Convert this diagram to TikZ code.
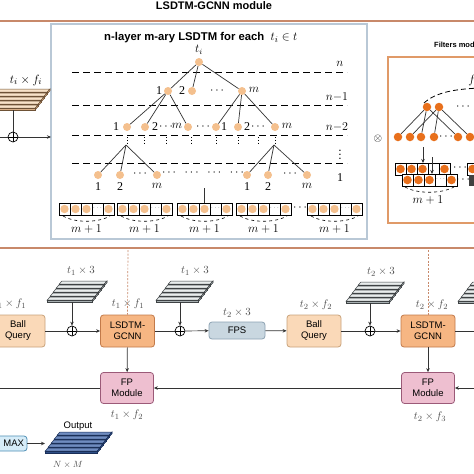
\documentclass[tikz,border=0pt]{standalone}
\usepackage{fontspec}
\setmainfont{Liberation Sans}
\newfontfamily\serifnum{Liberation Serif}
\usetikzlibrary{arrows.meta}
\definecolor{brownln}{HTML}{C8896A}
\definecolor{boxblue}{HTML}{B9C8D6}
\definecolor{peach}{HTML}{F4C08E}
\definecolor{forange}{HTML}{E8701C}
\definecolor{fboxdraw}{HTML}{E09A68}
\definecolor{bqfill}{HTML}{FAD9B8}
\definecolor{bqdraw}{HTML}{C9A27A}
\definecolor{lsfill}{HTML}{F6B683}
\definecolor{lsdraw}{HTML}{C27A4A}
\definecolor{fpsfill}{HTML}{C9D7E0}
\definecolor{fpsdraw}{HTML}{8DA3B3}
\definecolor{fpfill}{HTML}{EEBFD0}
\definecolor{fpdraw}{HTML}{9B5A78}
\definecolor{maxfill}{HTML}{D6ECF8}
\definecolor{maxdraw}{HTML}{4F8FB5}
\definecolor{gtop}{HTML}{E9EDED}
\definecolor{gfront}{HTML}{A7AFB1}
\definecolor{gedge}{HTML}{3E4244}
\definecolor{ttop}{HTML}{F8E2C8}
\definecolor{tfront}{HTML}{D8AE86}
\definecolor{tedge}{HTML}{6E5236}
\definecolor{btop}{HTML}{6F8CC0}
\definecolor{bfront}{HTML}{2E4E85}
\definecolor{bedge}{HTML}{1A2F58}
\definecolor{lbl}{HTML}{505050}
% x y w topfill frontfill edge
\newcommand{\layerstack}[6]{%
  \foreach \i in {4,3,2,1,0}{%
    \filldraw[fill=#4, draw=#6, line width=0.5pt]
      ({#1+\i*3},{#2-\i*4-1.8}) -- ++(#3,0) -- ++(3,-3.2) -- ++(-#3,0) -- cycle;
    \filldraw[fill=#5, draw=#6, line width=0.5pt]
      ({#1+\i*3+#3},{#2-\i*4}) -- ++(0,-1.8) -- ++(3,-3.2) -- ++(0,1.8) -- cycle;
    \filldraw[fill=#5, draw=#6, line width=0.5pt]
      ({#1+\i*3},{#2-\i*4}) rectangle ++(#3,-1.8);
  }}
\newcommand{\vecgroup}[2]{%
  \foreach \k in {0,1,2,4}{%
    \draw[line width=0.7pt, fill=white] ({#1+\k*11},#2) rectangle ++(11,12);
    \fill[peach] ({#1+\k*11+5.5},{#2+6}) circle (4.2pt);
  }
  \draw[line width=0.7pt, fill=white] ({#1+33},#2) rectangle ++(11,12);
  \node[font=\tiny, inner sep=0pt] at ({#1+38.5},{#2+5}) {$\cdots$};
  \draw[dashed, line width=0.6pt] ({#1+4},{#2+13}) .. controls ({#1+16},{#2+20}) and ({#1+39},{#2+20}) .. ({#1+51},{#2+13});
  \node[font=\fontsize{12.5}{13}\selectfont, inner sep=0pt] at ({#1+27.5},{#2+26}) {$m+1$};
}
\begin{document}
\begin{tikzpicture}[x=1pt,y=-1pt,
  tn/.style={circle, fill=peach, inner sep=0pt, minimum size=8pt},
  fn/.style={circle, fill=forange, inner sep=0pt, minimum size=8.5pt},
  lev/.style={dashed, dash pattern=on 7pt off 4pt, line width=0.9pt},
  num/.style={font=\serifnum\fontsize{12}{13}\selectfont, inner sep=0pt},
  mlab/.style={font=\fontsize{12}{13}\selectfont, inner sep=0pt},
  blk/.style={rounded corners=3pt, line width=0.8pt, align=center,
    font=\fontsize{9.5}{11}\selectfont, inner sep=1pt},
  bq/.style={blk, draw=bqdraw, fill=bqfill, minimum width=54pt, minimum height=32pt},
  ls/.style={blk, draw=lsdraw, fill=lsfill, minimum width=54pt, minimum height=32pt},
  fps/.style={blk, draw=fpsdraw, fill=fpsfill, minimum width=56pt, minimum height=17pt},
  fp/.style={blk, draw=fpdraw, fill=fpfill, minimum width=53pt, minimum height=31pt},
  opl/.style={circle, draw, line width=0.7pt, minimum size=10pt, inner sep=0pt,
    path picture={\draw[line width=0.7pt] (path picture bounding box.north) -- (path picture bounding box.south)
      (path picture bounding box.west) -- (path picture bounding box.east);}},
  arr/.style={-{Stealth[length=4pt,width=3.5pt]}, line width=0.7pt, draw=black!80},
  ln/.style={line width=0.7pt, draw=black!80},
  dim/.style={font=\fontsize{11}{12}\selectfont, text=lbl, inner sep=0pt},
  ttl/.style={font=\bfseries\fontsize{11.3}{13}\selectfont, inner sep=0pt}
]
\useasboundingbox (0,0) rectangle (474,474);
\clip (0,0) rectangle (474,474);
\fill[white] (0,0) rectangle (474,474);

% ---------------- top section ----------------
\node[ttl, font=\bfseries\fontsize{11}{12}\selectfont] (mtitle) at (214,6) {LSDTM-GCNN module};
\draw[brownln, line width=1.2pt] (0,21) -- (474,21);
\draw[brownln, line width=1.2pt] (0,248) -- (474,248);

% big LSDTM box
\draw[boxblue, line width=1.3pt] (51,24) rectangle (367,239);
\node[ttl, anchor=west] (ltitle) at (104,38) {n-layer m-ary LSDTM for each \ \normalfont\fontsize{12.5}{13}\selectfont$t_i\in t$};

% level dashed lines
\foreach \yy in {72,105,135,163} \draw[lev] (72,\yy) -- (347,\yy);
\node[mlab] (ln1) at (340,64) {$n$};
\node[mlab] (ln2) at (337,97) {$n{-}1$};
\node[mlab] (ln3) at (337,127) {$n{-}2$};
\node[mlab] (ln4) at (340,152) {$\vdots$};
\node[num] (ln5) at (340,178) {1};

% tree
\node[tn] (r) at (199,62) {};
\node[mlab] (rl) at (199,50) {$t_i$};
\node[tn] (a1) at (168,91) {};
\node[tn] (a2) at (192,91) {};
\node[tn] (am) at (242,91) {};
\node[num] at (159,91) {1};
\node[num] at (182,91) {2};
\node[mlab] at (217,91) {$\cdots$};
\node[mlab] at (254,90) {$m$};
\foreach \nm/\xx in {b1/127,b2/145,b3/188,b4/216,b5/238,b6/275}
  \node[tn] (\nm) at (\xx,127) {};
\node[num] at (116,127) {1};
\node[num] at (155,127) {2};
\node[mlab] at (166,127) {$\cdots$};
\node[mlab] at (177,126) {$m$};
\node[mlab] at (203,127) {$\cdots$};
\node[num] at (224,127) {1};
\node[num] at (247,127) {2};
\node[mlab] at (258,127) {$\cdots$};
\node[mlab] at (287,126) {$m$};
\foreach \t in {a1,a2,am} \draw[ln] (r) -- (\t);
\foreach \t in {b1,b2,b3} \draw[ln] (a1) -- (\t);
\foreach \t in {b4,b5,b6} \draw[ln] (am) -- (\t);
\foreach \xx in {127,144,166,191,216,238,258,275}
  \draw[line width=0.9pt, dash pattern=on 1.2pt off 1.6pt] (\xx,137) -- (\xx,144);

\coordinate (p1) at (126,145);
\coordinate (p2) at (274,145);
\foreach \nm/\xx in {c1/98,c2/120,c3/157,c4/247,c5/268,c6/307}
  \node[tn] (\nm) at (\xx,175) {};
\foreach \t in {c1,c2,c3} \draw[ln] (p1) -- (\t);
\foreach \t in {c4,c5,c6} \draw[ln] (p2) -- (\t);
\node[num] at (98,187) {1};
\node[num] at (120,187) {2};
\node[mlab] at (157,186) {$m$};
\node[num] at (247,187) {1};
\node[num] at (268,187) {2};
\node[mlab] at (307,186) {$m$};
\node[mlab] at (140,174) {$\cdots$};
\node[mlab] at (290,174) {$\cdots$};
\node[mlab] at (203,173) {$\cdots\;\;\cdots\;\;\cdots\;\;\cdots$};

% vector groups
\vecgroup{59}{203}
\vecgroup{117}{203}
\vecgroup{177}{203}
\vecgroup{236}{203}
\vecgroup{307}{203}
\node[mlab] at (300,208) {$\cdots$};
\coordinate (vt) at (204.5,188);
\coordinate (vb) at (204.5,203);
\draw[ln] (vt) -- (vb);

% left input
\node[font=\fontsize{13}{14}\selectfont, inner sep=0pt] (tifi) at (26,80) {$t_i\times f_i$};
\layerstack{-18}{110}{53}{ttop}{tfront}{tedge}
\coordinate (tanb) at (13,110);
\coordinate (lin) at (0,137);
\node[opl] (op0) at (13,137) {};
\draw[ln] (tanb) -- (op0);
\draw[arr] (lin) -- (op0) -- (51,137);

% otimes
\node[font=\fontsize{11}{12}\selectfont, inner sep=0pt] (otm) at (378,139) {$\otimes$};

% filters box
\node[font=\bfseries\fontsize{7.5}{8}\selectfont, anchor=west, inner sep=0pt] (ftitle) at (434,45) {Filters module};
\draw[fboxdraw, line width=1.3pt] (388,57) rectangle (490,223);
\node[mlab, font=\fontsize{13}{14}\selectfont] (ff) at (472,80) {$f$};
\draw[dashed, line width=0.8pt, dash pattern=on 5pt off 3pt] (424,103) .. controls (436,92) and (456,89) .. (480,88);
\node[fn] (t1) at (427,107) {};
\node[fn] (t2) at (439,107) {};
\node[mlab] at (463,107) {$\cdots$};
\foreach \nm/\xx in {d1/398,d2/410,d3/421,d4/434,d6/458,d7/470}
  \node[fn] (\nm) at (\xx,137) {};
\node[mlab] at (446,137) {$\cdots$};
\draw[ln] (t1) -- (d1); \draw[ln] (t1) -- (d3); \draw[ln] (t1) -- (d6);
\draw[ln] (t2) -- (d2); \draw[ln] (t2) -- (d4); \draw[ln] (t2) -- (d7);
% filter vectors row 1
\foreach \k in {0,1,2,4}{%
  \draw[line width=0.7pt, fill=white] ({395+\k*11},163) rectangle ++(11,12);
  \fill[forange] ({395+\k*11+5.5},169) circle (4.3pt);}
\draw[line width=0.7pt, fill=white] (428,163) rectangle ++(11,12);
\node[mlab] at (460,168) {$\cdots$};
\draw[line width=0.7pt, fill=white] (467,163) rectangle ++(11,12);
\fill[forange] (472.5,169) circle (4.3pt);
% row 2
\foreach \k in {0,1,2,4}{%
  \draw[line width=0.7pt, fill=white] ({402+\k*11},174) rectangle ++(11,12);
  \fill[forange] ({402+\k*11+5.5},180) circle (4.3pt);}
\draw[line width=0.7pt, fill=white] (435,174) rectangle ++(11,12);
\node[font=\tiny, inner sep=0pt] at (440.5,179) {$\cdots$};
\node[mlab] at (463,180) {$\cdots$};
\fill[black!75] (469,175) rectangle (480,186);
\coordinate (fa1) at (423,147); \coordinate (fa1e) at (423,163);
\coordinate (fa2) at (432,157); \coordinate (fa2e) at (432,174);
\draw[arr] (fa1) -- (fa1e);
\draw[arr] (fa2) -- (fa2e);
\draw[dashed, line width=0.6pt] (405,187) .. controls (417,194) and (441,194) .. (454,187);
\node[mlab, font=\fontsize{12.5}{13}\selectfont] (fm) at (428,200) {$m+1$};

% ---------------- bottom section ----------------
\node[bq] (bq1) at (18,331) {Ball\\Query};
\node[ls] (ls1) at (127.5,331) {LSDTM-\\GCNN};
\node[fps] (fps) at (237,330.5) {FPS};
\node[bq] (bq2) at (314,331) {Ball\\Query};
\node[ls] (ls2) at (428,331) {LSDTM-\\GCNN};
\node[fp] (fp1) at (127,388) {FP\\Module};
\node[fp] (fp2) at (428,388) {FP\\Module};

\node[opl] (op1) at (72,331) {};
\node[opl] (op2) at (180,331) {};
\node[opl] (op3) at (370,331) {};

\layerstack{47}{302}{45}{gtop}{gfront}{gedge}
\layerstack{156}{302}{42}{gtop}{gfront}{gedge}
\layerstack{346}{303}{43}{gtop}{gfront}{gedge}
\layerstack{458}{303}{43}{gtop}{gfront}{gedge}
\coordinate (s1) at (72,302);
\coordinate (s2) at (180,302);
\coordinate (s3) at (370,303);
\coordinate (rend) at (474,331);
\coordinate (lend) at (0,388);
\coordinate (rend2) at (474,388);

\node[dim] at (81,271) {$t_1\times 3$};
\node[dim] at (195,271) {$t_1\times 3$};
\node[dim] at (381,272) {$t_2\times 3$};
\node[dim] at (237,313) {$t_2\times 3$};
\node[dim] at (10,304) {$t_1\times f_1$};
\node[dim] at (128,304) {$t_1\times f_1$};
\node[dim] at (316,305) {$t_2\times f_2$};
\node[dim] at (432,305) {$t_2\times f_2$};
\node[dim] at (127,415) {$t_1\times f_2$};
\node[dim] at (430,417) {$t_2\times f_3$};

\coordinate (dl1) at (128,250);
\coordinate (dl2) at (428,250);
\draw[brownln, line width=0.7pt, dash pattern=on 2pt off 1.5pt] (dl1) -- (ls1.north);
\draw[brownln, line width=0.7pt, dash pattern=on 2pt off 1.5pt] (dl2) -- (ls2.north);

\draw[arr] (s1) -- (op1);
\draw[arr] (s2) -- (op2);
\draw[arr] (s3) -- (op3);
\draw[ln] (bq1) -- (op1);
\draw[arr] (op1) -- (ls1);
\draw[ln] (ls1) -- (op2);
\draw[arr] (op2) -- (fps);
\draw[arr] (fps) -- (bq2);
\draw[ln] (bq2) -- (op3);
\draw[arr] (op3) -- (ls2);
\draw[ln] (ls2) -- (rend);
\draw[arr] (ls1) -- (fp1);
\draw[arr] (ls2) -- (fp2);
\draw[arr] (fp2) -- (fp1);
\draw[arr] (rend2) -- (fp2);
\draw[ln] (fp1) -- (lend);

% output
\node[blk, draw=maxdraw, fill=maxfill, minimum width=44pt, minimum height=15pt,
  text width=38pt, align=right, inner sep=2pt] (mx) at (5,443.5) {MAX};
\layerstack{45}{453}{52}{btop}{bfront}{bedge}
\coordinate (outl) at (45,443.5);
\draw[arr] (mx) -- (outl);
\node[font=\fontsize{9.5}{10}\selectfont, inner sep=0pt] (outt) at (78,426) {Output};
\node[dim, font=\fontsize{9}{10}\selectfont] (nm) at (68,465) {$N\times M$};
\end{tikzpicture}
\end{document}
